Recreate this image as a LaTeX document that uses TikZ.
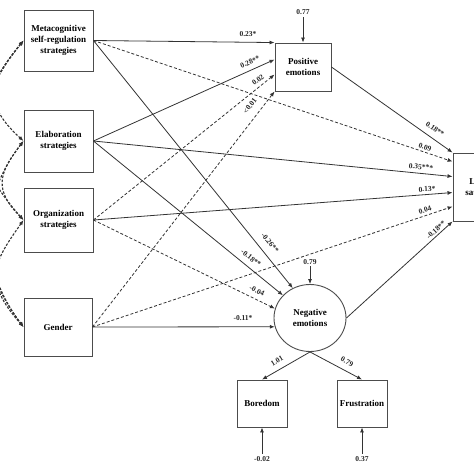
\documentclass[tikz,border=0pt]{standalone}
\usepackage{fontspec}
\setmainfont{Liberation Serif}
\usetikzlibrary{arrows.meta,shapes.geometric}
\begin{document}
\begin{tikzpicture}[x=1pt,y=-1pt,
  box/.style={draw=black!70, line width=0.9pt, align=center,
    font=\fontsize{9}{11}\selectfont\bfseries, inner sep=1pt},
  lab/.style={font=\fontsize{7.5}{8}\selectfont\bfseries, inner sep=0.5pt, text=black!85},
  arr/.style={draw=black!80, line width=0.8pt, -{Latex[length=5pt,width=4pt]}},
  darr/.style={arr, dash pattern=on 3pt off 2pt},
  cov/.style={draw=black!80, line width=1.1pt, dash pattern=on 2.5pt off 1.5pt,
    {Latex[length=5pt,width=4pt]}-{Latex[length=5pt,width=4pt]}},
]
\useasboundingbox (0,0) rectangle (474,474);
\clip (0,0) rectangle (474,474);

% boxes
\node[box, minimum width=69pt, minimum height=61pt] (meta) at (58.5,40.5) {Metacognitive\\self-regulation\\strategies};
\node[box, minimum width=69pt, minimum height=62pt] (elab) at (58.5,141) {Elaboration\\strategies};
\node[box, minimum width=69pt, minimum height=64pt] (org) at (58.5,220) {Organization\\strategies};
\node[box, minimum width=68pt, minimum height=58pt] (gender) at (58,327) {Gender};
\node[box, minimum width=56pt, minimum height=48pt] (pos) at (303,67) {Positive\\emotions};
\node[box, minimum width=68pt, minimum height=68pt] (ds) at (487,187) {Learning\\satisfaction};
\node[box, ellipse, minimum width=72pt, minimum height=67pt] (neg) at (310,318) {Negative\\emotions};
\node[box, minimum width=50pt, minimum height=47pt] (bor) at (262,403.5) {Boredom};
\node[box, minimum width=50pt, minimum height=47pt] (fru) at (362,403.5) {Frustration};

% covariances
\draw[cov] (meta.west) .. controls (-6,77) and (-22,100) .. (elab.west);
\draw[cov] (meta.west) .. controls (-36,113) and (-30,160) .. (org.west);
\draw[cov] (meta.west) .. controls (-66,150) and (-20,270) .. (gender.west);
\draw[cov] (elab.west) .. controls (-2,174) and (-6,190) .. (org.west);
\draw[cov] (elab.west) .. controls (-24,202) and (-20,270) .. (gender.west);
\draw[cov] (org.west) .. controls (-6,262) and (-18,280) .. (gender.west);

% paths
\draw[arr] (meta.east) -- (pos.north west);
\draw[darr] (meta.east) -- ([yshift=-9pt]ds.north west);
\draw[arr] (meta.east) -- (neg.120);
\draw[arr] (elab.east) -- ([yshift=-17pt]pos.north west);
\draw[arr] (elab.east) -- ([yshift=-24pt]ds.north west);
\draw[arr] (elab.east) -- (neg.140);
\draw[darr] (org.east) -- ([yshift=-32pt]pos.north west);
\draw[arr] (org.east) -- ([yshift=-40pt]ds.north west);
\draw[darr] (org.east) -- (neg.165);
\draw[darr] (gender.east) -- (pos.south west);
\draw[darr] (gender.east) -- ([yshift=-54pt]ds.north west);
\draw[arr] (gender.east) -- (neg.194);
\draw[arr] (pos.east) -- (ds.north west);
\draw[arr] (neg.east) -- (ds.south west);
\draw[arr] (neg.south) -- (bor.north);
\draw[arr] (neg.south) -- (fru.north);

% errors
\node[lab] (e1) at (303,12) {0.77};
\node[lab] (e2) at (310,262) {0.79};
\node[lab] (e3) at (262,459) {-0.02};
\node[lab] (e4) at (362,459) {0.37};
\draw[arr, shorten <=2pt] (e1) -- (pos);
\draw[arr, shorten <=1pt] (e2) -- (neg);
\draw[arr, shorten <=2pt] (e3) -- (bor);
\draw[arr, shorten <=2pt] (e4) -- (fru);

% path labels
\node[lab] (l1) at (248,34) {0.23*};
\node[lab, rotate=24] (l2) at (250,62) {0.28**};
\node[lab, rotate=38] (l3) at (258,80) {0.02};
\node[lab, rotate=52] (l4) at (250,106) {<0.01};
\node[lab, rotate=-35] (l5) at (435,129) {0.18**};
\node[lab, rotate=-18] (l6) at (425,147) {0.09};
\node[lab, rotate=-6] (l7) at (421,167) {0.35***};
\node[lab, rotate=4] (l8) at (427,189) {0.13*};
\node[lab, rotate=18] (l9) at (425,210) {0.04};
\node[lab, rotate=42] (l10) at (436,230) {-0.18**};
\node[lab, rotate=-51] (l11) at (270,243) {-0.26**};
\node[lab, rotate=-39] (l12) at (251,258) {-0.18**};
\node[lab, rotate=-26] (l13) at (257,291) {-0.04};
\node[lab] (l14) at (243,318) {-0.11*};
\node[lab, rotate=31] (l15) at (277,361) {1.01};
\node[lab, rotate=-29] (l16) at (347,362) {0.79};
\end{tikzpicture}
\end{document}
